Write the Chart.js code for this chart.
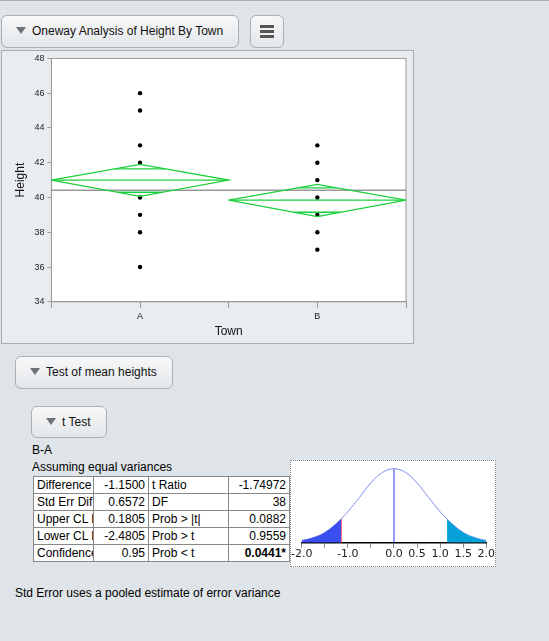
<!DOCTYPE html>
<html><head><meta charset="utf-8">
<script src="https://cdn.jsdelivr.net/npm/chart.js@4.4.6/dist/chart.umd.min.js"></script>
<style>
body{margin:0;width:549px;height:641px;background:#dfe4e8;font-family:"Liberation Sans",Arial,sans-serif;font-size:12px;position:relative;overflow:hidden}
.abs{position:absolute}
.btn{position:absolute;background:linear-gradient(#f7f8f9,#e3e6e9);border:1px solid #a9b0b7;border-radius:6px;font-size:12px;color:#111;box-sizing:border-box;padding-left:14px;line-height:30px}
.btn:before{content:"";display:inline-block;border-left:5px solid transparent;border-right:5px solid transparent;border-top:7px solid #6d737a;margin-right:6px;vertical-align:1px}
table{border-collapse:collapse;font-size:12px;table-layout:fixed;width:256px}
td{border:1px solid #888;padding:0 3px;height:17px;white-space:nowrap;overflow:hidden;box-sizing:border-box}
</style></head><body>
<div class="abs" style="left:0;top:0;width:549px;height:1px;background:#aab"></div>
<div class="btn" style="left:1px;top:15px;width:238px;height:33px">Oneway Analysis of Height By Town</div>
<div class="abs" style="left:250px;top:15px;width:32px;height:31px;border:1px solid #a9b0b7;border-radius:6px;background:linear-gradient(#f7f8f9,#e3e6e9)">
<div style="margin:9px 9px;width:14px;height:3px;background:#555;box-shadow:0 5px 0 #555,0 10px 0 #555"></div></div>
<div class="abs" style="left:1px;top:50px;width:411px;height:292px;border:1px solid #aab;background:#eaedf0"></div>
<canvas id="c1" class="abs" style="left:1px;top:50px" width="412" height="293"></canvas>
<div class="btn" style="left:15px;top:356px;width:158px;height:33px">Test of mean heights</div>
<div class="btn" style="left:31px;top:406px;width:76px;height:32px">t Test</div>
<div class="abs" style="left:32px;top:443px">B-A</div>
<div class="abs" style="left:32px;top:460px">Assuming equal variances</div>
<table class="abs" style="left:33px;top:476px;background:#fff">
<colgroup><col style="width:60px"><col style="width:55px"><col style="width:80px"><col style="width:61px"></colgroup>
<tr><td>Difference</td><td style="text-align:right">-1.1500</td><td>t Ratio</td><td style="text-align:right">-1.74972</td></tr>
<tr><td>Std Err Dif</td><td style="text-align:right">0.6572</td><td>DF</td><td style="text-align:right">38</td></tr>
<tr><td>Upper CL Dif</td><td style="text-align:right">0.1805</td><td>Prob &gt; |t|</td><td style="text-align:right">0.0882</td></tr>
<tr><td>Lower CL Dif</td><td style="text-align:right">-2.4805</td><td>Prob &gt; t</td><td style="text-align:right">0.9559</td></tr>
<tr><td>Confidence</td><td style="text-align:right">0.95</td><td>Prob &lt; t</td><td style="text-align:right"><b>0.0441*</b></td></tr>
</table>
<div class="abs" style="left:290px;top:460px;width:204px;height:105px;border:1px dotted #888;background:#fff"></div>
<canvas id="c2" class="abs" style="left:291px;top:461px" width="204" height="104"></canvas>
<div class="abs" style="left:15px;top:586px">Std Error uses a pooled estimate of error variance</div>
<script>
const towns = ['A', 'B'];
const heightsA = [46, 45, 43, 42, 40, 39, 38, 36];
const heightsB = [43, 42, 41, 40, 39, 38, 37];
const means = [41.0, 39.85];
const ciLow = [40.06, 38.9];
const ciHigh = [41.9, 40.75];
const overlapLow = [40.3, 39.15];
const overlapHigh = [41.65, 40.55];
const grandMean = 40.42;
const yTicks = [34, 36, 38, 40, 42, 44, 46, 48];

const green = '#1ccf3c';
const ds = [];
towns.forEach((t, i) => {
  const l = i, c = i + 0.5, r = i + 1;
  ds.push({data: [{x:l,y:means[i]},{x:c,y:ciHigh[i]},{x:r,y:means[i]},{x:c,y:ciLow[i]},{x:l,y:means[i]}]});
  ds.push({data: [{x:l,y:means[i]},{x:r,y:means[i]}]});
  const w = (ciHigh[i] - overlapHigh[i]) / (ciHigh[i] - means[i]) * 0.5;
  ds.push({data: [{x:c-w,y:overlapHigh[i]},{x:c+w,y:overlapHigh[i]}]});
  const w2 = (overlapLow[i] - ciLow[i]) / (means[i] - ciLow[i]) * 0.5;
  ds.push({data: [{x:c-w2,y:overlapLow[i]},{x:c+w2,y:overlapLow[i]}]});
});
ds.forEach(d => Object.assign(d, {type:'line', borderColor:green, borderWidth:1.3, pointRadius:0, fill:false, tension:0}));
ds.push({type:'line', data:[{x:0,y:grandMean},{x:2,y:grandMean}], borderColor:'#666', borderWidth:1, pointRadius:0});
ds.push({type:'scatter', data: heightsA.map(v => ({x:0.5, y:v})).concat(heightsB.map(v => ({x:1.5, y:v}))), backgroundColor:'#000', borderWidth:0, pointRadius:2.2});

new Chart(document.getElementById('c1'), {
  type: 'scatter',
  data: {datasets: ds},
  options: {
    animation:false, responsive:false, events:[],
    layout:{padding:{left:8, right:7, top:4}},
    plugins:{legend:{display:false}, tooltip:{enabled:false}},
    scales:{
      x:{type:'linear', min:0, max:2, afterBuildTicks: a => { a.ticks = [0,0.5,1,1.5,2].map(v=>({value:v})); },
        grid:{drawOnChartArea:false, color:'#999', tickLength:6},
        border:{color:'#999'},
        ticks:{font:{size:9}, color:'#222', callback: v => v === 0.5 ? towns[0] : v === 1.5 ? towns[1] : ''},
        title:{display:true, text:'Town', font:{size:12}, color:'#111', padding:{top:0}}},
      y:{min:34, max:48, afterBuildTicks: a => { a.ticks = yTicks.map(v=>({value:v})); },
        grid:{drawOnChartArea:false, color:'#999', tickLength:4},
        border:{color:'#999'},
        ticks:{font:{size:9}, color:'#222'},
        title:{display:true, text:'Height', font:{size:12}, color:'#111'}}
    }
  },
  plugins:[{id:'bg', beforeDraw(ch){const a=ch.chartArea,c=ch.ctx;c.save();c.fillStyle='#fff';c.fillRect(a.left,a.top,a.right-a.left,a.bottom-a.top);c.strokeStyle='#999';c.strokeRect(a.left,a.top,a.right-a.left,a.bottom-a.top);c.restore();}}]
});

// t distribution curve
const curveX = [-2, -1.75, -1.5, -1.25, -1.15, -1, -0.75, -0.5, -0.25, 0, 0.25, 0.5, 0.75, 1, 1.15, 1.25, 1.5, 1.75, 2];
const curveY = [0.03, 0.07, 0.14, 0.26, 0.32, 0.42, 0.61, 0.81, 0.95, 1, 0.95, 0.81, 0.61, 0.42, 0.32, 0.26, 0.14, 0.07, 0.03];
const tRatio = -1.15;
const tickX = [-2, -1.5, -1, -0.5, 0, 0.5, 1, 1.5, 2];
const labelX = ['-2.0', '', '-1.0', '', '0.0', '0.5', '1.0', '1.5', '2.0'];

const pts = curveX.map((x, i) => ({x, y: curveY[i]}));
new Chart(document.getElementById('c2'), {
  type:'line',
  data:{datasets:[
    {data: pts.filter(p => p.x <= tRatio), fill:'origin', backgroundColor:'#3a4ff0', borderWidth:0, pointRadius:0, tension:0.4},
    {data: pts.filter(p => p.x >= -tRatio), fill:'origin', backgroundColor:'#08a0d8', borderWidth:0, pointRadius:0, tension:0.4},
    {data: pts, borderColor:'#7b8ef5', borderWidth:1, pointRadius:0, tension:0.4},
    {data: [{x:0,y:0},{x:0,y:1}], borderColor:'#2a3cf0', borderWidth:1, pointRadius:0},
    {data: [{x:tRatio,y:0},{x:tRatio,y:0.32}], borderColor:'#f03060', borderWidth:1.5, pointRadius:0}
  ]},
  options:{
    animation:false, responsive:false, events:[],
    layout:{padding:{left:4, right:6, top:4, bottom:4}},
    plugins:{legend:{display:false}, tooltip:{enabled:false}},
    scales:{
      x:{type:'linear', min:-2, max:2, afterBuildTicks: a => { a.ticks = tickX.map(v=>({value:v})); },
        grid:{drawOnChartArea:false, color:'#888', tickLength:5}, border:{color:'#000', width:1.5},
        ticks:{font:{size:11, family:'DejaVu Sans'}, color:'#222', padding:0, maxRotation:0, autoSkip:false,
          callback:(v, i) => labelX[i]}},
      y:{display:false, min:0, max:1.05}
    }
  }
});
</script>
</body></html>
